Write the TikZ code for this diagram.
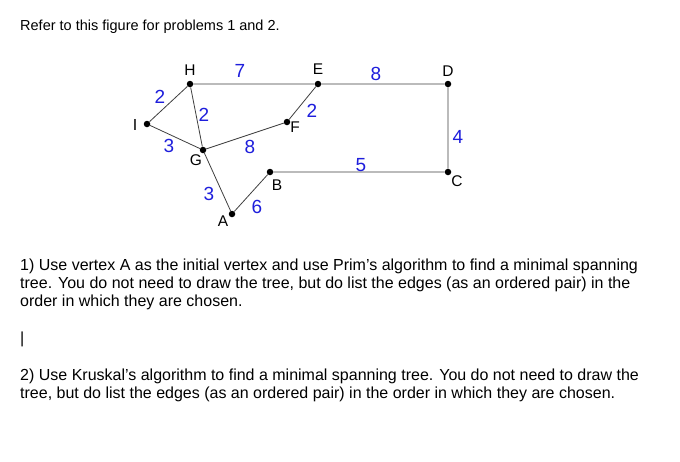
\documentclass[tikz,border=0pt]{standalone}
\usepackage{fontspec}
\setmainfont{Liberation Sans}
\definecolor{lblue}{RGB}{30,30,220}
\begin{document}
\begin{tikzpicture}[x=1pt,y=-1pt,
  vtx/.style={circle,fill=black,inner sep=0pt,minimum size=6.5pt},
  edge/.style={draw=black!75,line width=0.8pt},
  wt/.style={text=lblue,font=\fontsize{19}{19}\selectfont,inner sep=1pt},
  vl/.style={font=\fontsize{15.5}{15.5}\selectfont,inner sep=1pt},
  txt/.style={anchor=base west,inner sep=0pt,font=\fontsize{16}{17}\selectfont}]
\useasboundingbox (0,0) rectangle (680,461);
\fill[white] (0,0) rectangle (680,461);
\node[vtx] (H) at (190,84) {};
\node[vtx] (E) at (318,84) {};
\node[vtx] (D) at (448,84) {};
\node[vtx] (I) at (147,124) {};
\node[vtx] (F) at (287,122) {};
\node[vtx] (G) at (203,150) {};
\node[vtx] (B) at (270,172) {};
\node[vtx] (C) at (448,172) {};
\node[vtx] (A) at (232,214) {};
\draw[edge] (H) -- (E) -- (D) -- (C) -- (B) -- (A) -- (G) -- (I) -- (H) -- (G) -- (F) -- (E);
\node[vl] (lH) at (190,70) {H};
\node[vl] (lE) at (318,69) {E};
\node[vl] (lD) at (448,71) {D};
\node[font=\fontsize{16}{16}\selectfont\rmfamily,inner sep=1pt] (lI) at (135,125) {I};
\node[vl] (lF) at (295,127) {F};
\node[vl] (lG) at (196,160) {G};
\node[vl] (lB) at (277,185) {B};
\node[vl] (lC) at (457,181) {C};
\node[vl] (lA) at (223,221) {A};
\node[wt] (w1) at (240,71) {7};
\node[wt] (w2) at (376,74) {8};
\node[wt] (w3) at (160,97) {2};
\node[wt] (w4) at (204,115) {2};
\node[wt] (w5) at (312,111) {2};
\node[wt] (w6) at (458,137) {4};
\node[wt] (w7) at (169,146) {3};
\node[wt] (w8) at (250,147) {8};
\node[wt] (w9) at (361,165) {5};
\node[wt] (w10) at (209,194) {3};
\node[wt] (w11) at (257,207) {6};
\node[txt,font=\fontsize{14.5}{17}\selectfont] (t0) at (20,30) {Refer to this figure for problems 1 and 2.};
\node[txt] (t1) at (20,270) {1) Use vertex A as the initial vertex and use Prim’s algorithm to find a minimal spanning};
\node[txt] (t2) at (20,288) {tree. You do not need to draw the tree, but do list the edges (as an ordered pair) in the};
\node[txt] (t3) at (20,306) {order in which they are chosen.};
\node[txt] (cur) at (20,343) {|};
\node[txt] (t4) at (20,380) {2) Use Kruskal’s algorithm to find a minimal spanning tree. You do not need to draw the};
\node[txt] (t5) at (20,398) {tree, but do list the edges (as an ordered pair) in the order in which they are chosen.};
\end{tikzpicture}
\end{document}
